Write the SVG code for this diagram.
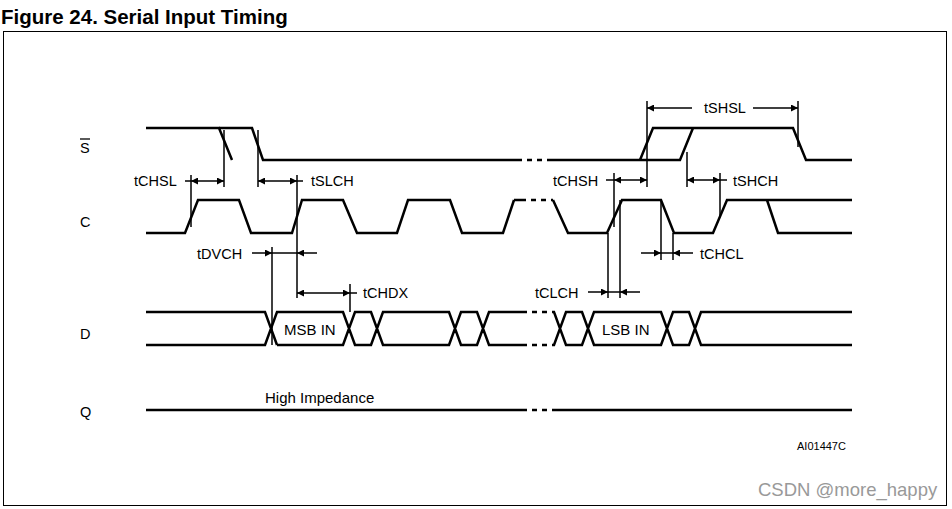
<svg xmlns="http://www.w3.org/2000/svg" width="952" height="509" viewBox="0 0 952 509">
<style>
.sig{fill:none;stroke:#000;stroke-width:2.5;stroke-linejoin:miter}
.dash{fill:none;stroke:#000;stroke-width:2.5;stroke-dasharray:12 5 5 5 5 5}
.ann{fill:none;stroke:#000;stroke-width:1.5}
.arr{fill:none;stroke:#000;stroke-width:1.5;marker-end:url(#ah)}
text{font-family:"Liberation Sans",Arial,sans-serif;font-size:14.5px;fill:#000}
</style>
<defs>
<marker id="ah" viewBox="0 0 10 10" refX="10" refY="5" markerWidth="9" markerHeight="7" markerUnits="userSpaceOnUse" orient="auto"><path d="M0,0 L10,5 L0,10 z" fill="#000"/></marker>
</defs>
<rect width="952" height="509" fill="#fff"/>
<text x="1" y="24" style="font-weight:bold;font-size:20.5px">Figure 24. Serial Input Timing</text>
<rect x="3.5" y="31.5" width="943" height="474" fill="none" stroke="#000" stroke-width="1"/>
<g id="labels">
<text x="80" y="153">S</text><line x1="80" y1="139" x2="90" y2="139" stroke="#000" stroke-width="1.3"/>
<text x="80" y="227">C</text>
<text x="80" y="339">D</text>
<text x="80" y="417">Q</text>
<text x="265" y="403" style="font-size:15px">High Impedance</text>
<text x="797" y="450" style="font-size:11px">AI01447C</text>
<text x="758" y="496" style="font-size:18.5px;fill:#999">CSDN @more_happy</text>
</g>
<g id="signals">
<path class="sig" d="M146,128 H219 L232,160"/>
<path class="sig" d="M219,128 H252 L263,160 H510"/>
<line class="dash" x1="510" y1="160" x2="553" y2="160"/>
<path class="sig" d="M553,160 H680 L693,128"/>
<path class="sig" d="M640,160 L653,128 H793 L806,160 H852"/>
<path class="sig" d="M146,233 H185 L198,200 H239 L251,233 H292 L302,200 H343 L357,233 H397 L408,200 H450 L462,233 H503 L514,200"/>
<line class="dash" x1="514" y1="200" x2="553" y2="200"/>
<path class="sig" d="M553,200 L568,233 H607 L622,200 H661 L674,233 H713 L727,200 H852"/>
<path class="sig" d="M767,200 L778,233 H852"/>
<path class="sig" d="M146,312 H265 L277,345 M146,345 H265 L277,312 H343 L355,345 H371 L383,312 H449 L461,345 H477 L489,312 H515 M277,345 H343 L355,312 H371 L383,345 H449 L461,312 H477 L489,345 H515"/>
<line class="dash" x1="515" y1="312" x2="553" y2="312"/>
<line class="dash" x1="515" y1="345" x2="553" y2="345"/>
<path class="sig" d="M553,312 H554 L566,345 H582 L594,312 H661 L673,345 H689 L701,312 H852 M553,345 H554 L566,312 H582 L594,345 H661 L673,312 H689 L701,345 H852"/>
<line class="sig" x1="146" y1="410" x2="515" y2="410"/>
<line class="dash" x1="515" y1="410" x2="553" y2="410"/>
<line class="sig" x1="553" y1="410" x2="852" y2="410"/>
<text x="284" y="335" style="font-size:15px">MSB IN</text>
<text x="602" y="335" style="font-size:15px">LSB IN</text>
</g>
<g id="connectors">
<line class="ann" x1="191" y1="175" x2="191" y2="227"/>
<line class="ann" x1="224" y1="130" x2="224" y2="187"/>
<line class="ann" x1="185" y1="181" x2="191" y2="181"/>
<line class="arr" x1="207" y1="181" x2="191" y2="181"/><line class="arr" x1="207" y1="181" x2="224" y2="181"/>
<text x="134" y="186">tCHSL</text>
<line class="ann" x1="258" y1="130" x2="258" y2="187"/>
<line class="ann" x1="297" y1="175" x2="297" y2="298"/>
<line class="ann" x1="297" y1="181" x2="303" y2="181"/>
<line class="arr" x1="277" y1="181" x2="258" y2="181"/><line class="arr" x1="277" y1="181" x2="297" y2="181"/>
<text x="311" y="186">tSLCH</text>
<line class="ann" x1="272" y1="247" x2="272" y2="345"/>
<line class="ann" x1="272" y1="253" x2="297" y2="253"/>
<line class="arr" x1="252" y1="253" x2="272" y2="253"/>
<line class="arr" x1="317" y1="253" x2="297" y2="253"/>
<text x="197" y="259">tDVCH</text>
<line class="ann" x1="350" y1="284" x2="350" y2="312"/>
<line class="ann" x1="350" y1="293" x2="357" y2="293"/>
<line class="arr" x1="323" y1="293" x2="297" y2="293"/><line class="arr" x1="323" y1="293" x2="350" y2="293"/>
<text x="363" y="298">tCHDX</text>
<line class="ann" x1="647" y1="101" x2="647" y2="187"/>
<line class="ann" x1="798" y1="101" x2="798" y2="147"/>
<line class="arr" x1="692" y1="108" x2="647" y2="108"/>
<line class="arr" x1="753" y1="108" x2="798" y2="108"/>
<text x="704" y="113">tSHSL</text>
<line class="ann" x1="614" y1="173" x2="614" y2="227"/>
<line class="ann" x1="606" y1="180" x2="614" y2="180"/>
<line class="arr" x1="630" y1="180" x2="614" y2="180"/><line class="arr" x1="630" y1="180" x2="647" y2="180"/>
<text x="553" y="186">tCHSH</text>
<line class="ann" x1="687" y1="152" x2="687" y2="187"/>
<line class="ann" x1="720" y1="173" x2="720" y2="217"/>
<line class="ann" x1="720" y1="180" x2="727" y2="180"/>
<line class="arr" x1="703" y1="180" x2="687" y2="180"/><line class="arr" x1="703" y1="180" x2="720" y2="180"/>
<text x="733" y="186">tSHCH</text>
<line class="ann" x1="608" y1="233" x2="608" y2="298"/>
<line class="ann" x1="620" y1="200" x2="620" y2="298"/>
<line class="ann" x1="608" y1="292" x2="620" y2="292"/>
<line class="arr" x1="588" y1="292" x2="608" y2="292"/>
<line class="arr" x1="640" y1="292" x2="620" y2="292"/>
<text x="535" y="298">tCLCH</text>
<line class="ann" x1="661" y1="200" x2="661" y2="260"/>
<line class="ann" x1="673" y1="233" x2="673" y2="260"/>
<line class="ann" x1="661" y1="253" x2="673" y2="253"/>
<line class="arr" x1="641" y1="253" x2="661" y2="253"/>
<line class="arr" x1="693" y1="253" x2="673" y2="253"/>
<text x="700" y="259">tCHCL</text>
</g>
</svg>
